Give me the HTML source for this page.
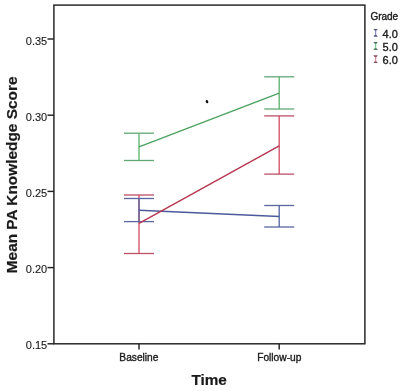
<!DOCTYPE html>
<html><head><meta charset="utf-8"><style>
html,body{margin:0;padding:0;background:#fff;width:400px;height:391px;overflow:hidden}
svg{display:block}
text{font-family:"Liberation Sans",Arial,sans-serif;fill:#1a1a1a;stroke:#1a1a1a;stroke-width:0.25px}
text.b{stroke-width:0.2px}
text.t{stroke-width:0.12px}
text.l{stroke-width:0.35px}
</style></head><body>
<svg width="400" height="391" viewBox="0 0 400 391">
<rect x="53.9" y="5.1" width="311" height="338.7" fill="none" stroke="#222" stroke-width="1.45"/>
<g stroke="#222" stroke-width="1.45">
<line x1="47.5" y1="39.0" x2="54" y2="39.0"/><line x1="47.5" y1="115.2" x2="54" y2="115.2"/><line x1="47.5" y1="191.4" x2="54" y2="191.4"/><line x1="47.5" y1="267.6" x2="54" y2="267.6"/><line x1="47.5" y1="343.8" x2="54" y2="343.8"/>
<line x1="139" y1="343.8" x2="139" y2="349.6"/>
<line x1="279.2" y1="343.8" x2="279.2" y2="349.6"/>
</g>
<g font-size="11">
<text class="t" x="47.2" y="44.6" text-anchor="end">0.35</text><text class="t" x="47.2" y="120.8" text-anchor="end">0.30</text><text class="t" x="47.2" y="197.0" text-anchor="end">0.25</text><text class="t" x="47.2" y="273.2" text-anchor="end">0.20</text><text class="t" x="47.2" y="349.4" text-anchor="end">0.15</text>
</g>
<g class="x" font-size="10.2" text-anchor="middle">
<text class="l" x="138.9" y="361">Baseline</text>
<text class="l" x="279.3" y="360.6">Follow-up</text>
</g>
<text class="b" x="209.1" y="384.5" font-size="15.3" font-weight="bold" text-anchor="middle">Time</text>
<text class="b" transform="translate(17.4,174.9) rotate(-90)" font-size="15.4" font-weight="bold" text-anchor="middle">Mean PA Knowledge Score</text>
<g stroke-width="1.3"><line stroke="#bc5068" x1="124.0" y1="195.0" x2="154.0" y2="195.0"/><line stroke="#bc5068" x1="124.0" y1="253.5" x2="154.0" y2="253.5"/><line stroke="#d44862" x1="139.0" y1="195.0" x2="139.0" y2="253.5"/><line stroke="#bc5068" x1="264.2" y1="115.9" x2="294.2" y2="115.9"/><line stroke="#bc5068" x1="264.2" y1="174.1" x2="294.2" y2="174.1"/><line stroke="#d44862" x1="279.2" y1="115.9" x2="279.2" y2="174.1"/></g>
<g stroke-width="1.3"><line stroke="#62a874" x1="124.0" y1="133.2" x2="154.0" y2="133.2"/><line stroke="#62a874" x1="124.0" y1="160.5" x2="154.0" y2="160.5"/><line stroke="#58b06a" x1="139.0" y1="133.2" x2="139.0" y2="160.5"/><line stroke="#62a874" x1="264.2" y1="76.8" x2="294.2" y2="76.8"/><line stroke="#62a874" x1="264.2" y1="109.0" x2="294.2" y2="109.0"/><line stroke="#58b06a" x1="279.2" y1="76.8" x2="279.2" y2="109.0"/></g>
<g stroke-width="1.3"><line stroke="#5a66a0" x1="124.0" y1="198.5" x2="154.0" y2="198.5"/><line stroke="#5a66a0" x1="124.0" y1="221.6" x2="154.0" y2="221.6"/><line stroke="#54609e" x1="139.0" y1="198.5" x2="139.0" y2="221.6"/><line stroke="#5a66a0" x1="264.2" y1="205.5" x2="294.2" y2="205.5"/><line stroke="#5a66a0" x1="264.2" y1="227.0" x2="294.2" y2="227.0"/><line stroke="#54609e" x1="279.2" y1="205.5" x2="279.2" y2="227.0"/></g>
<g><line stroke="#4c5a9c" stroke-width="1.4" x1="139.0" y1="210.3" x2="279.2" y2="216.5"/><line stroke="#4ca260" stroke-width="1.4" x1="139.0" y1="146.9" x2="279.2" y2="93.1"/><line stroke="#b83650" stroke-width="1.4" x1="139.0" y1="223.4" x2="279.2" y2="145.8"/></g>
<ellipse cx="207" cy="101.6" rx="1.3" ry="1.7" fill="#111" transform="rotate(-20 207 101.6)"/>
<text class="l" x="370.4" y="20" font-size="10">Grade</text>
<line stroke="#8c8ccc" stroke-width="1.3" x1="375.6" y1="29.8" x2="375.6" y2="35.8"/><polygon fill="#55587a" points="373.4,28.9 377.8,28.9 376.5,30.5 374.7,30.5"/><polygon fill="#55587a" points="373.4,36.7 377.8,36.7 376.5,35.1 374.7,35.1"/><text class="l" x="382.6" y="37.5" font-size="11">4.0</text><line stroke="#80cc98" stroke-width="1.3" x1="375.6" y1="43.0" x2="375.6" y2="49.0"/><polygon fill="#4c7a5e" points="373.4,42.1 377.8,42.1 376.5,43.7 374.7,43.7"/><polygon fill="#4c7a5e" points="373.4,49.9 377.8,49.9 376.5,48.3 374.7,48.3"/><text class="l" x="382.6" y="50.7" font-size="11">5.0</text><line stroke="#e08ca0" stroke-width="1.3" x1="375.6" y1="56.2" x2="375.6" y2="62.2"/><polygon fill="#8a4a5c" points="373.4,55.3 377.8,55.3 376.5,56.9 374.7,56.9"/><polygon fill="#8a4a5c" points="373.4,63.1 377.8,63.1 376.5,61.5 374.7,61.5"/><text class="l" x="382.6" y="63.9" font-size="11">6.0</text>
</svg>
</body></html>
